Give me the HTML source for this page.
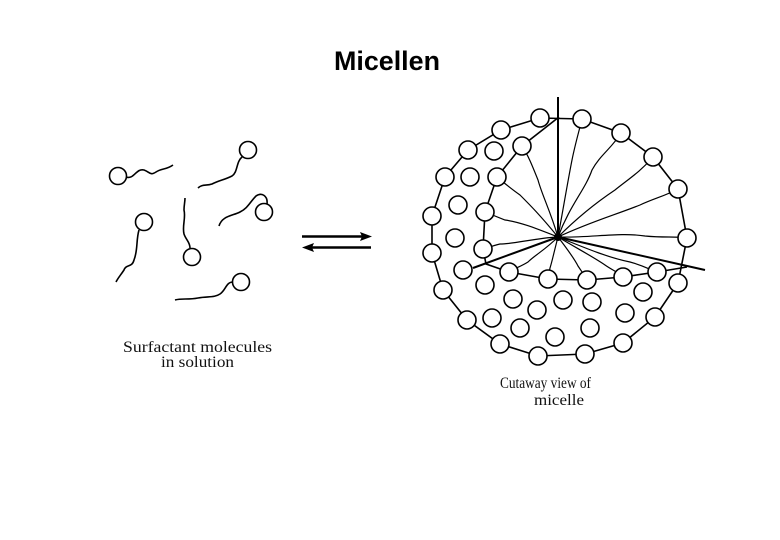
<!DOCTYPE html>
<html><head><meta charset="utf-8"><style>
html,body{margin:0;padding:0;background:#fff;}
svg{display:block;}
</style></head><body>
<svg width="780" height="540" viewBox="0 0 780 540" xmlns="http://www.w3.org/2000/svg">
<rect width="780" height="540" fill="#fff"/>
<text x="334" y="70" font-family="Liberation Sans, sans-serif" font-weight="bold" font-size="27" textLength="106" lengthAdjust="spacingAndGlyphs" fill="#000">Micellen</text>

<g fill="none" stroke="#000" stroke-width="1.6">
<circle cx="118" cy="176" r="8.5"/>
<path d="M126,177 C134,180 136,168 144,170 C150,172 150,176 156,172 C162,168 166,170 173,165"/>
<circle cx="248" cy="150" r="8.5"/>
<path d="M242,157 C236,162 238,172 232,176 C224,180 220,180 212,184 C206,186 202,184 198,188"/>
<circle cx="264" cy="212" r="8.5"/>
<path d="M267,204 C268,196 262,192 256,196 C250,202 248,208 240,212 C232,216 222,216 219,226"/>
<circle cx="144" cy="222" r="8.5"/>
<path d="M139,230 C136,240 138,250 134,260 C132,268 126,264 124,270 C120,276 118,278 116,282"/>
<circle cx="192" cy="257" r="8.5"/>
<path d="M190,248 C190,242 186,240 184,234 C182,226 186,218 184,210 C184,205 185,202 185,198"/>
<circle cx="241" cy="282" r="8.5"/>
<path d="M233,282 C226,282 226,290 220,294 C214,298 208,296 198,298 C188,300 182,298 175,300"/>
</g>

<g stroke="#000" stroke-width="2.4">
<line x1="302" y1="236.5" x2="366" y2="236.5"/>
<line x1="308" y1="247.5" x2="371" y2="247.5"/>
</g>
<path d="M372,236.5 L360,232 L362,236.5 L360,241 Z" fill="#000"/>
<path d="M302,247.5 L314,243 L312,247.5 L314,252 Z" fill="#000"/>

<g fill="none" stroke="#000" stroke-width="1.6">
<polygon points="540,118 582,119 621,133 653,157 678,189 687,238 678,283 655,317 623,343 585,354 538,356 500,344 467,320 443,290 432,253 432,216 445,177 468,150 501,130"/>
<polyline points="559,117 522,146 497,177 485,212 483,249 486,264 509,272 548,279 587,280 623,277 657,272 687,267"/>
</g>
<g fill="none" stroke="#000" stroke-width="1.2">
<path d="M558,237 C563,210 568,180 572,160 C575,145 578,135 582,119"/>
<path d="M558,237 C570,205 585,190 592,170 C600,155 612,148 621,133"/>
<path d="M558,237 C580,215 600,200 615,190 C630,178 640,172 653,157"/>
<path d="M558,237 C590,222 615,215 640,205 C655,198 665,196 678,189"/>
<path d="M558,237 C590,238 620,232 645,236 C665,238 675,236 687,238"/>
<path d="M558,237 C590,250 610,258 630,262 C645,266 650,270 657,272"/>
<path d="M558,237 C580,250 595,258 605,265 C612,270 618,272 623,277"/>
<path d="M558,237 C568,250 575,260 578,266 C582,272 585,276 587,280"/>
<path d="M558,237 C554,252 552,262 550,268 C549,273 548,276 548,279"/>
<path d="M558,237 C545,250 535,255 528,262 C520,267 515,268 509,272"/>
<path d="M558,237 C535,238 515,244 500,244 C492,246 487,248 483,249"/>
<path d="M558,237 C535,228 520,222 505,220 C495,216 490,214 485,212"/>
<path d="M558,237 C540,215 530,205 520,195 C510,188 503,182 497,177"/>
<path d="M558,237 C550,210 542,195 538,180 C532,165 528,155 522,146"/>
</g>
<g stroke="#000" stroke-width="2">
<line x1="558" y1="97" x2="558" y2="237"/>
<line x1="558" y1="237" x2="473" y2="268"/>
<line x1="558" y1="237" x2="705" y2="270"/>
</g>
<circle cx="558" cy="237" r="4" fill="#000"/>

<g fill="#fff" stroke="#000" stroke-width="1.6">
<circle cx="540" cy="118" r="9"/><circle cx="582" cy="119" r="9"/><circle cx="621" cy="133" r="9"/>
<circle cx="653" cy="157" r="9"/><circle cx="678" cy="189" r="9"/><circle cx="687" cy="238" r="9"/>
<circle cx="678" cy="283" r="9"/><circle cx="655" cy="317" r="9"/><circle cx="623" cy="343" r="9"/>
<circle cx="585" cy="354" r="9"/><circle cx="538" cy="356" r="9"/><circle cx="500" cy="344" r="9"/>
<circle cx="467" cy="320" r="9"/><circle cx="443" cy="290" r="9"/><circle cx="432" cy="253" r="9"/>
<circle cx="432" cy="216" r="9"/><circle cx="445" cy="177" r="9"/><circle cx="468" cy="150" r="9"/>
<circle cx="501" cy="130" r="9"/>
<circle cx="522" cy="146" r="9"/><circle cx="497" cy="177" r="9"/><circle cx="485" cy="212" r="9"/>
<circle cx="483" cy="249" r="9"/><circle cx="509" cy="272" r="9"/><circle cx="548" cy="279" r="9"/>
<circle cx="587" cy="280" r="9"/><circle cx="623" cy="277" r="9"/><circle cx="657" cy="272" r="9"/>
<circle cx="494" cy="151" r="9"/><circle cx="470" cy="177" r="9"/><circle cx="458" cy="205" r="9"/>
<circle cx="455" cy="238" r="9"/><circle cx="463" cy="270" r="9"/><circle cx="485" cy="285" r="9"/>
<circle cx="513" cy="299" r="9"/><circle cx="537" cy="310" r="9"/><circle cx="563" cy="300" r="9"/>
<circle cx="592" cy="302" r="9"/><circle cx="643" cy="292" r="9"/><circle cx="625" cy="313" r="9"/>
<circle cx="492" cy="318" r="9"/><circle cx="520" cy="328" r="9"/><circle cx="555" cy="337" r="9"/>
<circle cx="590" cy="328" r="9"/>
</g>

<g font-family="Liberation Serif, serif" font-size="16" fill="#111">
<text x="123" y="352" textLength="149" lengthAdjust="spacingAndGlyphs">Surfactant molecules</text>
<text x="161" y="367" textLength="73" lengthAdjust="spacingAndGlyphs">in solution</text>
<text x="500" y="388" textLength="91" lengthAdjust="spacingAndGlyphs">Cutaway view of</text>
<text x="534" y="405" textLength="50" lengthAdjust="spacingAndGlyphs">micelle</text>
</g>
</svg>
</body></html>
